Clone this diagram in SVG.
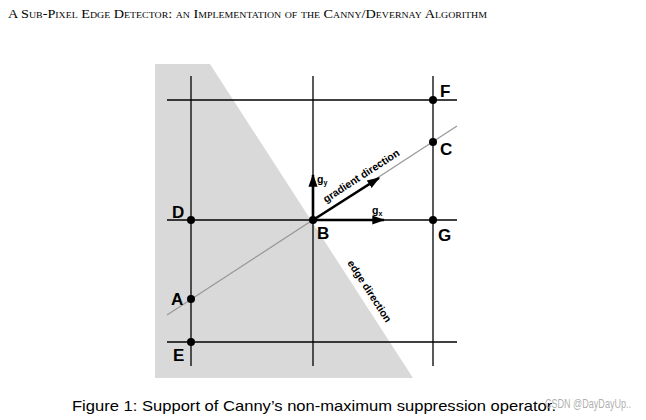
<svg xmlns="http://www.w3.org/2000/svg" width="646" height="420" viewBox="0 0 646 420">
<defs>
<style>
.grid{stroke:#000;stroke-width:1.3;fill:none}
.pt{fill:#000}
.lbl{font-family:"Liberation Sans",Arial,sans-serif;font-weight:bold;font-size:17px;fill:#000}
.small{font-family:"Liberation Sans",Arial,sans-serif;font-weight:bold;font-size:10.5px;fill:#000}
.arr{stroke:#000;stroke-width:2.6;fill:none}
</style>
<marker id="ah" viewBox="0 0 10 10" refX="9" refY="5" markerWidth="5" markerHeight="5" orient="auto" markerUnits="strokeWidth"><path d="M0,1.5 L10,5 L0,8.5 z" fill="#000"/></marker>
</defs>
<rect width="646" height="420" fill="#fff"/>
<text x="8" y="18" font-family="Liberation Serif,serif" font-size="13" font-variant="small-caps" textLength="479" lengthAdjust="spacingAndGlyphs">A Sub-Pixel Edge Detector: an Implementation of the Canny/Devernay Algorithm</text>
<polygon points="155,64 210,64 413,378 155,378" fill="#d9d9d9"/>
<g id="connectors">
<line class="grid" x1="191" y1="76" x2="191" y2="366"/>
<line class="grid" x1="313" y1="76" x2="313" y2="366"/>
<line class="grid" x1="433" y1="76" x2="433" y2="366"/>
<line class="grid" x1="167" y1="100" x2="457" y2="100"/>
<line class="grid" x1="167" y1="220" x2="457" y2="220"/>
<line class="grid" x1="167" y1="342" x2="457" y2="342"/>
<line x1="167" y1="315" x2="457" y2="126" stroke="#999" stroke-width="1.3"/>
<line class="arr" x1="313" y1="220" x2="313" y2="175" marker-end="url(#ah)"/>
<line class="arr" x1="313" y1="220" x2="384" y2="220" marker-end="url(#ah)"/>
<line class="arr" x1="313" y1="220" x2="379" y2="178" marker-end="url(#ah)"/>
</g>
<text class="small" x="317" y="183">g<tspan font-size="7" dy="2">y</tspan></text>
<text class="small" x="372" y="214">g<tspan font-size="7" dy="2">x</tspan></text>
<text class="small" transform="translate(326,203) rotate(-33)">gradient direction</text>
<text class="small" transform="translate(347,263) rotate(57)">edge direction</text>
<g id="F"><circle class="pt" cx="433" cy="100" r="4"/><text class="lbl" x="440" y="97">F</text></g>
<g id="C"><circle class="pt" cx="433" cy="142" r="4"/><text class="lbl" x="440" y="155">C</text></g>
<g id="D"><circle class="pt" cx="191" cy="220" r="4"/><text class="lbl" x="172" y="218">D</text></g>
<g id="B"><circle class="pt" cx="313" cy="220" r="4"/><text class="lbl" x="317" y="239">B</text></g>
<g id="G"><circle class="pt" cx="433" cy="220" r="4"/><text class="lbl" x="438" y="241">G</text></g>
<g id="A"><circle class="pt" cx="191" cy="299" r="4"/><text class="lbl" x="171" y="305">A</text></g>
<g id="E"><circle class="pt" cx="191" cy="342" r="4"/><text class="lbl" x="173" y="361">E</text></g>
<text x="72" y="411" font-family="Liberation Sans,sans-serif" font-size="14.5" textLength="484" lengthAdjust="spacingAndGlyphs">Figure 1: Support of Canny’s non-maximum suppression operator.</text>
<text x="545" y="408" font-family="Liberation Sans,sans-serif" font-size="13" fill="#999" fill-opacity="0.8" textLength="86" lengthAdjust="spacingAndGlyphs">CSDN @DayDayUp..</text>
</svg>
